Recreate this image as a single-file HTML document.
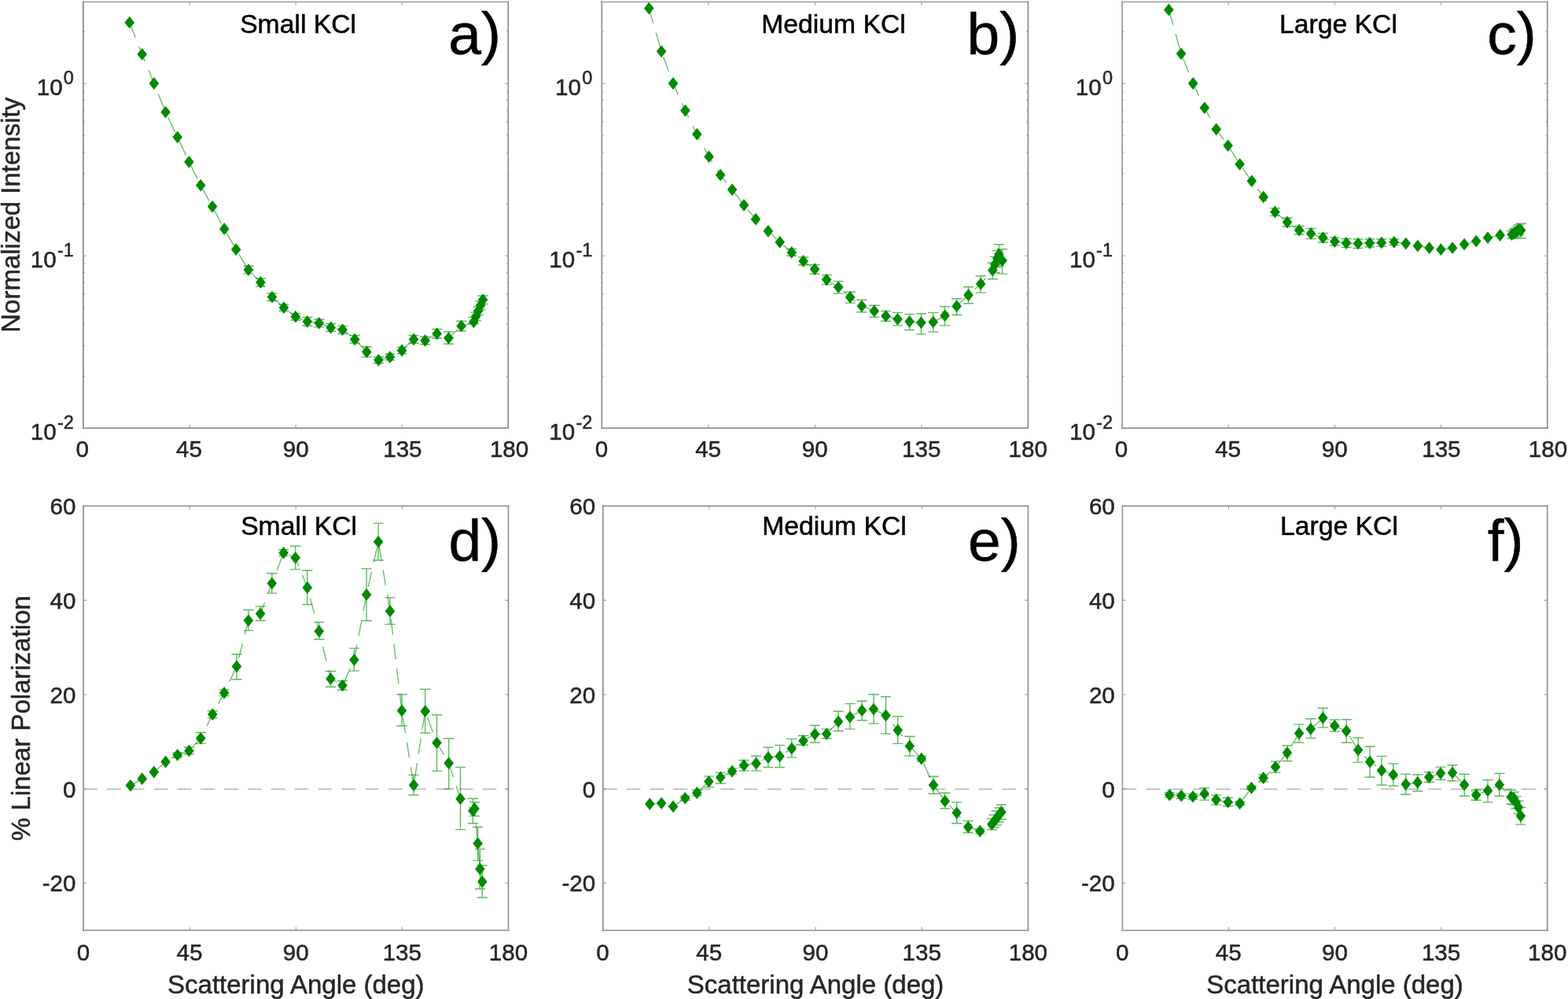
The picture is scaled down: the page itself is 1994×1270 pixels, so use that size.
<!DOCTYPE html>
<html lang="en"><head><meta charset="utf-8"><title>KCl scattering: normalized intensity and linear polarization</title>
<style>html,body{margin:0;padding:0;background:#fff}body{width:1994px;height:1270px;overflow:hidden}svg{display:block}</style></head>
<body>
<svg width="1994" height="1270" viewBox="0 0 1994 1270" font-family='"Liberation Sans", Arial, Helvetica, sans-serif'>
<style>text{stroke-width:0.5px;stroke-linejoin:round}</style>
<rect width="1994" height="1270" fill="#fff"/>
<g>
<line x1="105.9" y1="2.4" x2="646.3" y2="2.4" stroke="#a7a7a7" stroke-width="1.8" stroke-linecap="square"/>
<line x1="646.3" y1="2.4" x2="646.3" y2="544.3" stroke="#858585" stroke-width="1.6" stroke-linecap="square"/>
<line x1="105.9" y1="544.3" x2="646.3" y2="544.3" stroke="#828282" stroke-width="1.6" stroke-linecap="square"/>
<line x1="105.9" y1="2.4" x2="105.9" y2="544.3" stroke="#868686" stroke-width="1.7" stroke-linecap="square"/>
<path d="M241 544.3v-4.2M241 2.4v4.2M376.1 544.3v-4.2M376.1 2.4v4.2M511.2 544.3v-4.2M511.2 2.4v4.2M105.9 325.3h4.2M646.3 325.3h-4.2M105.9 106.3h4.2M646.3 106.3h-4.2M105.9 478.37h2.2M646.3 478.37h-2.2M105.9 439.81h2.2M646.3 439.81h-2.2M105.9 412.45h2.2M646.3 412.45h-2.2M105.9 391.23h2.2M646.3 391.23h-2.2M105.9 373.88h2.2M646.3 373.88h-2.2M105.9 359.22h2.2M646.3 359.22h-2.2M105.9 346.52h2.2M646.3 346.52h-2.2M105.9 335.32h2.2M646.3 335.32h-2.2M105.9 259.37h2.2M646.3 259.37h-2.2M105.9 220.81h2.2M646.3 220.81h-2.2M105.9 193.45h2.2M646.3 193.45h-2.2M105.9 172.23h2.2M646.3 172.23h-2.2M105.9 154.88h2.2M646.3 154.88h-2.2M105.9 140.22h2.2M646.3 140.22h-2.2M105.9 127.52h2.2M646.3 127.52h-2.2M105.9 116.32h2.2M646.3 116.32h-2.2M105.9 40.37h2.2M646.3 40.37h-2.2" fill="none" stroke="#9a9a9a" stroke-width="1.1"/>
<text x="104.8" y="581.3" font-size="29.6" text-anchor="middle" fill="#262626" stroke="#262626">0</text>
<text x="240.5" y="581.3" font-size="29.6" text-anchor="middle" fill="#262626" stroke="#262626">45</text>
<text x="376.2" y="581.3" font-size="29.6" text-anchor="middle" fill="#262626" stroke="#262626">90</text>
<text x="511.9" y="581.3" font-size="29.6" text-anchor="middle" fill="#262626" stroke="#262626">135</text>
<text x="647.6" y="581.3" font-size="29.6" text-anchor="middle" fill="#262626" stroke="#262626">180</text>
<text x="93.9" y="559.3" font-size="29.6" text-anchor="end" fill="#262626" stroke="#262626">10<tspan font-size="23.5" dy="-14.8" dx="1.2">-2</tspan></text>
<text x="93.9" y="340.3" font-size="29.6" text-anchor="end" fill="#262626" stroke="#262626">10<tspan font-size="23.5" dy="-14.8" dx="1.2">-1</tspan></text>
<text x="93.9" y="121.3" font-size="29.6" text-anchor="end" fill="#262626" stroke="#262626">10<tspan font-size="23.5" dy="-14.8" dx="1.2">0</tspan></text>
<text x="379.1" y="42" font-size="33.7" text-anchor="middle" fill="#000" stroke="#000">Small KCl</text>
<text x="570.2" y="69.1" font-size="75" text-anchor="start" fill="#000" stroke="#000">a<tspan dy="-1.3">)</tspan></text>
<polyline points="164.7,28.7 180.7,68.9 195.8,106 210.6,142.6 225.7,174.3 240.4,205.8 255.2,235.6 270.1,262.6 285.2,290.9 300.2,317.2 315.9,343.1 331.4,359 346,377.6 360.9,391.1 375.9,402.7 390.8,408.8 405.7,410.8 420.7,416.4 435.6,419.2 451.2,431.4 466.3,447.3 481.4,457.8 496,453.9 511.1,445.5 526.1,431.4 540.6,432.9 555.7,424.2 570.5,429.8 586.6,414.4 602.3,409.3 605.2,402.3 608.2,395.2 611.1,388.2 614.1,381.1" fill="none" stroke="#008a00" stroke-opacity="0.55" stroke-width="1.45" stroke-dasharray="20.4 12.2"/>
<path d="M315.9 338.3V347.9M309.3 338.3h13.2M309.3 347.9h13.2M331.4 354V364M324.8 354h13.2M324.8 364h13.2M346 373V382.2M339.4 373h13.2M339.4 382.2h13.2M360.9 387V395.2M354.3 387h13.2M354.3 395.2h13.2M375.9 398.5V407M369.3 398.5h13.2M369.3 407h13.2M390.8 403.5V414M384.2 403.5h13.2M384.2 414h13.2M405.7 406V415.6M399.1 406h13.2M399.1 415.6h13.2M420.7 411.5V421.3M414.1 411.5h13.2M414.1 421.3h13.2M435.6 414.4V424M429 414.4h13.2M429 424h13.2M451.2 426.5V436.3M444.6 426.5h13.2M444.6 436.3h13.2M466.3 440.8V453.9M459.7 440.8h13.2M459.7 453.9h13.2M481.4 453.8V461.8M474.8 453.8h13.2M474.8 461.8h13.2M496 450V457.8M489.4 450h13.2M489.4 457.8h13.2M511.1 441.5V449.5M504.5 441.5h13.2M504.5 449.5h13.2M526.1 426.5V436.3M519.5 426.5h13.2M519.5 436.3h13.2M540.6 428V437.8M534 428h13.2M534 437.8h13.2M555.7 418.5V430M549.1 418.5h13.2M549.1 430h13.2M570.5 421.8V437.3M563.9 421.8h13.2M563.9 437.3h13.2M586.6 408.2V420.8M580 408.2h13.2M580 420.8h13.2M602.3 403.3V411.7M595.7 403.3h13.2M595.7 411.7h13.2M605.2 397V407.5M598.6 397h13.2M598.6 407.5h13.2M608.2 390V400.5M601.6 390h13.2M601.6 400.5h13.2M611.1 383V393.5M604.5 383h13.2M604.5 393.5h13.2M614.1 376V386.5M607.5 376h13.2M607.5 386.5h13.2" fill="none" stroke="#008a00" stroke-opacity="0.62" stroke-width="1.4"/>
<path d="M164.7 20.8L171 28.7L164.7 36.6L158.4 28.7ZM180.7 61L187 68.9L180.7 76.8L174.4 68.9ZM195.8 98.1L202.1 106L195.8 113.9L189.5 106ZM210.6 134.7L216.9 142.6L210.6 150.5L204.3 142.6ZM225.7 166.4L232 174.3L225.7 182.2L219.4 174.3ZM240.4 197.9L246.7 205.8L240.4 213.7L234.1 205.8ZM255.2 227.7L261.5 235.6L255.2 243.5L248.9 235.6ZM270.1 254.7L276.4 262.6L270.1 270.5L263.8 262.6ZM285.2 283L291.5 290.9L285.2 298.8L278.9 290.9ZM300.2 309.3L306.5 317.2L300.2 325.1L293.9 317.2ZM315.9 335.2L322.2 343.1L315.9 351L309.6 343.1ZM331.4 351.1L337.7 359L331.4 366.9L325.1 359ZM346 369.7L352.3 377.6L346 385.5L339.7 377.6ZM360.9 383.2L367.2 391.1L360.9 399L354.6 391.1ZM375.9 394.8L382.2 402.7L375.9 410.6L369.6 402.7ZM390.8 400.9L397.1 408.8L390.8 416.7L384.5 408.8ZM405.7 402.9L412 410.8L405.7 418.7L399.4 410.8ZM420.7 408.5L427 416.4L420.7 424.3L414.4 416.4ZM435.6 411.3L441.9 419.2L435.6 427.1L429.3 419.2ZM451.2 423.5L457.5 431.4L451.2 439.3L444.9 431.4ZM466.3 439.4L472.6 447.3L466.3 455.2L460 447.3ZM481.4 449.9L487.7 457.8L481.4 465.7L475.1 457.8ZM496 446L502.3 453.9L496 461.8L489.7 453.9ZM511.1 437.6L517.4 445.5L511.1 453.4L504.8 445.5ZM526.1 423.5L532.4 431.4L526.1 439.3L519.8 431.4ZM540.6 425L546.9 432.9L540.6 440.8L534.3 432.9ZM555.7 416.3L562 424.2L555.7 432.1L549.4 424.2ZM570.5 421.9L576.8 429.8L570.5 437.7L564.2 429.8ZM586.6 406.5L592.9 414.4L586.6 422.3L580.3 414.4ZM602.3 401.4L608.6 409.3L602.3 417.2L596 409.3ZM605.2 394.4L611.5 402.3L605.2 410.2L598.9 402.3ZM608.2 387.3L614.5 395.2L608.2 403.1L601.9 395.2ZM611.1 380.3L617.4 388.2L611.1 396.1L604.8 388.2ZM614.1 373.2L620.4 381.1L614.1 389L607.8 381.1Z" fill="#008a00"/>
</g>
<g>
<line x1="765.3" y1="2.4" x2="1307.4" y2="2.4" stroke="#a7a7a7" stroke-width="1.8" stroke-linecap="square"/>
<line x1="1307.4" y1="2.4" x2="1307.4" y2="544.3" stroke="#888888" stroke-width="1.6" stroke-linecap="square"/>
<line x1="765.3" y1="544.3" x2="1307.4" y2="544.3" stroke="#828282" stroke-width="1.6" stroke-linecap="square"/>
<line x1="765.3" y1="2.4" x2="765.3" y2="544.3" stroke="#8e8e8e" stroke-width="1.7" stroke-linecap="square"/>
<path d="M900.83 544.3v-4.2M900.83 2.4v4.2M1036.35 544.3v-4.2M1036.35 2.4v4.2M1171.88 544.3v-4.2M1171.88 2.4v4.2M765.3 325.3h4.2M1307.4 325.3h-4.2M765.3 106.3h4.2M1307.4 106.3h-4.2M765.3 478.37h2.2M1307.4 478.37h-2.2M765.3 439.81h2.2M1307.4 439.81h-2.2M765.3 412.45h2.2M1307.4 412.45h-2.2M765.3 391.23h2.2M1307.4 391.23h-2.2M765.3 373.88h2.2M1307.4 373.88h-2.2M765.3 359.22h2.2M1307.4 359.22h-2.2M765.3 346.52h2.2M1307.4 346.52h-2.2M765.3 335.32h2.2M1307.4 335.32h-2.2M765.3 259.37h2.2M1307.4 259.37h-2.2M765.3 220.81h2.2M1307.4 220.81h-2.2M765.3 193.45h2.2M1307.4 193.45h-2.2M765.3 172.23h2.2M1307.4 172.23h-2.2M765.3 154.88h2.2M1307.4 154.88h-2.2M765.3 140.22h2.2M1307.4 140.22h-2.2M765.3 127.52h2.2M1307.4 127.52h-2.2M765.3 116.32h2.2M1307.4 116.32h-2.2M765.3 40.37h2.2M1307.4 40.37h-2.2" fill="none" stroke="#9a9a9a" stroke-width="1.1"/>
<text x="765.1" y="581.3" font-size="29.6" text-anchor="middle" fill="#262626" stroke="#262626">0</text>
<text x="900.62" y="581.3" font-size="29.6" text-anchor="middle" fill="#262626" stroke="#262626">45</text>
<text x="1036.15" y="581.3" font-size="29.6" text-anchor="middle" fill="#262626" stroke="#262626">90</text>
<text x="1171.67" y="581.3" font-size="29.6" text-anchor="middle" fill="#262626" stroke="#262626">135</text>
<text x="1307.2" y="581.3" font-size="29.6" text-anchor="middle" fill="#262626" stroke="#262626">180</text>
<text x="753.3" y="559.3" font-size="29.6" text-anchor="end" fill="#262626" stroke="#262626">10<tspan font-size="23.5" dy="-14.8" dx="1.2">-2</tspan></text>
<text x="753.3" y="340.3" font-size="29.6" text-anchor="end" fill="#262626" stroke="#262626">10<tspan font-size="23.5" dy="-14.8" dx="1.2">-1</tspan></text>
<text x="753.3" y="121.3" font-size="29.6" text-anchor="end" fill="#262626" stroke="#262626">10<tspan font-size="23.5" dy="-14.8" dx="1.2">0</tspan></text>
<text x="1060" y="42" font-size="33.7" text-anchor="middle" fill="#000" stroke="#000">Medium KCl</text>
<text x="1229.6" y="69.1" font-size="75" text-anchor="start" fill="#000" stroke="#000">b<tspan dy="-1.3">)</tspan></text>
<polyline points="825.3,10.6 841.1,65.3 856,106 871.4,140.6 886.3,170.7 901.6,199.2 916.2,222.4 931.1,241.1 946.1,260.8 961,278.7 976.9,293.8 991.7,307.8 1006.8,320.9 1021.6,331.9 1036.1,342.2 1051.2,355.6 1066.2,365.1 1081.1,377.9 1095.9,389.2 1111.8,395.4 1126.5,401.8 1141.5,405.8 1156.6,408.8 1171.4,410.2 1186.7,409.4 1201.6,401.2 1216.6,389.2 1231.5,375.1 1247.2,360.9 1262.3,343.6 1265.3,336 1268.2,328.5 1270.3,323.5 1274.6,331.2" fill="none" stroke="#008a00" stroke-opacity="0.55" stroke-width="1.45" stroke-dasharray="20 12"/>
<path d="M1006.8 316.5V325.3M1000.2 316.5h13.2M1000.2 325.3h13.2M1021.6 327V336.8M1015 327h13.2M1015 336.8h13.2M1036.1 336.5V348.2M1029.5 336.5h13.2M1029.5 348.2h13.2M1051.2 349.6V361.6M1044.6 349.6h13.2M1044.6 361.6h13.2M1066.2 357.6V373.1M1059.6 357.6h13.2M1059.6 373.1h13.2M1081.1 371.3V385.1M1074.5 371.3h13.2M1074.5 385.1h13.2M1095.9 381.3V396.8M1089.3 381.3h13.2M1089.3 396.8h13.2M1111.8 388.2V403.2M1105.2 388.2h13.2M1105.2 403.2h13.2M1126.5 395.4V408.2M1119.9 395.4h13.2M1119.9 408.2h13.2M1141.5 397.4V413.9M1134.9 397.4h13.2M1134.9 413.9h13.2M1156.6 399.4V419.5M1150 399.4h13.2M1150 419.5h13.2M1171.4 398.8V424.9M1164.8 398.8h13.2M1164.8 424.9h13.2M1186.7 397.4V421.9M1180.1 397.4h13.2M1180.1 421.9h13.2M1201.6 389.8V413.9M1195 389.8h13.2M1195 413.9h13.2M1216.6 379.7V400.2M1210 379.7h13.2M1210 400.2h13.2M1231.5 364.7V385.7M1224.9 364.7h13.2M1224.9 385.7h13.2M1247.2 350.7V372.1M1240.6 350.7h13.2M1240.6 372.1h13.2M1262.3 334.2V354.7M1255.7 334.2h13.2M1255.7 354.7h13.2M1265.3 326.4V346.5M1258.7 326.4h13.2M1258.7 346.5h13.2M1268.2 318.5V339.5M1261.6 318.5h13.2M1261.6 339.5h13.2M1270.3 310.8V337.5M1263.7 310.8h13.2M1263.7 337.5h13.2M1274.6 316.8V348.1M1268 316.8h13.2M1268 348.1h13.2" fill="none" stroke="#008a00" stroke-opacity="0.62" stroke-width="1.4"/>
<path d="M825.3 2.7L831.6 10.6L825.3 18.5L819 10.6ZM841.1 57.4L847.4 65.3L841.1 73.2L834.8 65.3ZM856 98.1L862.3 106L856 113.9L849.7 106ZM871.4 132.7L877.7 140.6L871.4 148.5L865.1 140.6ZM886.3 162.8L892.6 170.7L886.3 178.6L880 170.7ZM901.6 191.3L907.9 199.2L901.6 207.1L895.3 199.2ZM916.2 214.5L922.5 222.4L916.2 230.3L909.9 222.4ZM931.1 233.2L937.4 241.1L931.1 249L924.8 241.1ZM946.1 252.9L952.4 260.8L946.1 268.7L939.8 260.8ZM961 270.8L967.3 278.7L961 286.6L954.7 278.7ZM976.9 285.9L983.2 293.8L976.9 301.7L970.6 293.8ZM991.7 299.9L998 307.8L991.7 315.7L985.4 307.8ZM1006.8 313L1013.1 320.9L1006.8 328.8L1000.5 320.9ZM1021.6 324L1027.9 331.9L1021.6 339.8L1015.3 331.9ZM1036.1 334.3L1042.4 342.2L1036.1 350.1L1029.8 342.2ZM1051.2 347.7L1057.5 355.6L1051.2 363.5L1044.9 355.6ZM1066.2 357.2L1072.5 365.1L1066.2 373L1059.9 365.1ZM1081.1 370L1087.4 377.9L1081.1 385.8L1074.8 377.9ZM1095.9 381.3L1102.2 389.2L1095.9 397.1L1089.6 389.2ZM1111.8 387.5L1118.1 395.4L1111.8 403.3L1105.5 395.4ZM1126.5 393.9L1132.8 401.8L1126.5 409.7L1120.2 401.8ZM1141.5 397.9L1147.8 405.8L1141.5 413.7L1135.2 405.8ZM1156.6 400.9L1162.9 408.8L1156.6 416.7L1150.3 408.8ZM1171.4 402.3L1177.7 410.2L1171.4 418.1L1165.1 410.2ZM1186.7 401.5L1193 409.4L1186.7 417.3L1180.4 409.4ZM1201.6 393.3L1207.9 401.2L1201.6 409.1L1195.3 401.2ZM1216.6 381.3L1222.9 389.2L1216.6 397.1L1210.3 389.2ZM1231.5 367.2L1237.8 375.1L1231.5 383L1225.2 375.1ZM1247.2 353L1253.5 360.9L1247.2 368.8L1240.9 360.9ZM1262.3 335.7L1268.6 343.6L1262.3 351.5L1256 343.6ZM1265.3 328.1L1271.6 336L1265.3 343.9L1259 336ZM1268.2 320.6L1274.5 328.5L1268.2 336.4L1261.9 328.5ZM1270.3 315.6L1276.6 323.5L1270.3 331.4L1264 323.5ZM1274.6 323.3L1280.9 331.2L1274.6 339.1L1268.3 331.2Z" fill="#008a00"/>
</g>
<g>
<line x1="1427" y1="2.4" x2="1967.8" y2="2.4" stroke="#a5a5a5" stroke-width="1.8" stroke-linecap="square"/>
<line x1="1967.8" y1="2.4" x2="1967.8" y2="544.3" stroke="#848484" stroke-width="1.5" stroke-linecap="square"/>
<line x1="1427" y1="544.3" x2="1967.8" y2="544.3" stroke="#828282" stroke-width="1.6" stroke-linecap="square"/>
<line x1="1427" y1="2.4" x2="1427" y2="544.3" stroke="#9c9c9c" stroke-width="1.8" stroke-linecap="square"/>
<path d="M1562.2 544.3v-4.2M1562.2 2.4v4.2M1697.4 544.3v-4.2M1697.4 2.4v4.2M1832.6 544.3v-4.2M1832.6 2.4v4.2M1427 325.3h4.2M1967.8 325.3h-4.2M1427 106.3h4.2M1967.8 106.3h-4.2M1427 478.37h2.2M1967.8 478.37h-2.2M1427 439.81h2.2M1967.8 439.81h-2.2M1427 412.45h2.2M1967.8 412.45h-2.2M1427 391.23h2.2M1967.8 391.23h-2.2M1427 373.88h2.2M1967.8 373.88h-2.2M1427 359.22h2.2M1967.8 359.22h-2.2M1427 346.52h2.2M1967.8 346.52h-2.2M1427 335.32h2.2M1967.8 335.32h-2.2M1427 259.37h2.2M1967.8 259.37h-2.2M1427 220.81h2.2M1967.8 220.81h-2.2M1427 193.45h2.2M1967.8 193.45h-2.2M1427 172.23h2.2M1967.8 172.23h-2.2M1427 154.88h2.2M1967.8 154.88h-2.2M1427 140.22h2.2M1967.8 140.22h-2.2M1427 127.52h2.2M1967.8 127.52h-2.2M1427 116.32h2.2M1967.8 116.32h-2.2M1427 40.37h2.2M1967.8 40.37h-2.2" fill="none" stroke="#9a9a9a" stroke-width="1.1"/>
<text x="1426" y="581.3" font-size="29.6" text-anchor="middle" fill="#262626" stroke="#262626">0</text>
<text x="1561.62" y="581.3" font-size="29.6" text-anchor="middle" fill="#262626" stroke="#262626">45</text>
<text x="1697.25" y="581.3" font-size="29.6" text-anchor="middle" fill="#262626" stroke="#262626">90</text>
<text x="1832.88" y="581.3" font-size="29.6" text-anchor="middle" fill="#262626" stroke="#262626">135</text>
<text x="1968.5" y="581.3" font-size="29.6" text-anchor="middle" fill="#262626" stroke="#262626">180</text>
<text x="1415" y="559.3" font-size="29.6" text-anchor="end" fill="#262626" stroke="#262626">10<tspan font-size="23.5" dy="-14.8" dx="1.2">-2</tspan></text>
<text x="1415" y="340.3" font-size="29.6" text-anchor="end" fill="#262626" stroke="#262626">10<tspan font-size="23.5" dy="-14.8" dx="1.2">-1</tspan></text>
<text x="1415" y="121.3" font-size="29.6" text-anchor="end" fill="#262626" stroke="#262626">10<tspan font-size="23.5" dy="-14.8" dx="1.2">0</tspan></text>
<text x="1702" y="42" font-size="33.7" text-anchor="middle" fill="#000" stroke="#000">Large KCl</text>
<text x="1891.3" y="69.1" font-size="75" text-anchor="start" fill="#000" stroke="#000">c<tspan dy="-1.3">)</tspan></text>
<polyline points="1486.3,12.4 1502.1,68.3 1517.2,106 1531.8,137.1 1546.7,164.3 1561.6,185.1 1576.6,208.8 1591.8,230.1 1606.7,250.4 1621.4,269.4 1637,282.5 1652.1,292.7 1667.1,296.9 1682.4,302.2 1697.3,307 1712.1,309 1727,309.6 1741.8,309 1756.9,308.6 1772.8,307.8 1787.8,309.6 1802.9,312.6 1817.6,315.2 1832.4,317.2 1847.1,315.2 1862.1,310.6 1877.2,306.6 1892,302.2 1907.7,299 1922.6,298.2 1925.6,296.4 1928.6,294.2 1931.4,291.6 1934.2,292.8" fill="none" stroke="#008a00" stroke-opacity="0.55" stroke-width="1.45" stroke-dasharray="20 12"/>
<path d="M1621.4 264.6V274.4M1614.8 264.6h13.2M1614.8 274.4h13.2M1637 277V288M1630.4 277h13.2M1630.4 288h13.2M1652.1 287.5V298M1645.5 287.5h13.2M1645.5 298h13.2M1667.1 290.5V303.5M1660.5 290.5h13.2M1660.5 303.5h13.2M1682.4 296.5V308M1675.8 296.5h13.2M1675.8 308h13.2M1697.3 302V312M1690.7 302h13.2M1690.7 312h13.2M1712.1 303.5V314.5M1705.5 303.5h13.2M1705.5 314.5h13.2M1727 304V315.5M1720.4 304h13.2M1720.4 315.5h13.2M1741.8 304V314M1735.2 304h13.2M1735.2 314h13.2M1756.9 304V313.4M1750.3 304h13.2M1750.3 313.4h13.2M1772.8 304V311.6M1766.2 304h13.2M1766.2 311.6h13.2M1922.6 293.5V303M1916 293.5h13.2M1916 303h13.2M1925.6 291V302M1919 291h13.2M1919 302h13.2M1928.6 288.5V300.5M1922 288.5h13.2M1922 300.5h13.2M1931.4 286V298.5M1924.8 286h13.2M1924.8 298.5h13.2M1934.2 284.3V303M1927.6 284.3h13.2M1927.6 303h13.2" fill="none" stroke="#008a00" stroke-opacity="0.62" stroke-width="1.4"/>
<path d="M1486.3 4.5L1492.6 12.4L1486.3 20.3L1480 12.4ZM1502.1 60.4L1508.4 68.3L1502.1 76.2L1495.8 68.3ZM1517.2 98.1L1523.5 106L1517.2 113.9L1510.9 106ZM1531.8 129.2L1538.1 137.1L1531.8 145L1525.5 137.1ZM1546.7 156.4L1553 164.3L1546.7 172.2L1540.4 164.3ZM1561.6 177.2L1567.9 185.1L1561.6 193L1555.3 185.1ZM1576.6 200.9L1582.9 208.8L1576.6 216.7L1570.3 208.8ZM1591.8 222.2L1598.1 230.1L1591.8 238L1585.5 230.1ZM1606.7 242.5L1613 250.4L1606.7 258.3L1600.4 250.4ZM1621.4 261.5L1627.7 269.4L1621.4 277.3L1615.1 269.4ZM1637 274.6L1643.3 282.5L1637 290.4L1630.7 282.5ZM1652.1 284.8L1658.4 292.7L1652.1 300.6L1645.8 292.7ZM1667.1 289L1673.4 296.9L1667.1 304.8L1660.8 296.9ZM1682.4 294.3L1688.7 302.2L1682.4 310.1L1676.1 302.2ZM1697.3 299.1L1703.6 307L1697.3 314.9L1691 307ZM1712.1 301.1L1718.4 309L1712.1 316.9L1705.8 309ZM1727 301.7L1733.3 309.6L1727 317.5L1720.7 309.6ZM1741.8 301.1L1748.1 309L1741.8 316.9L1735.5 309ZM1756.9 300.7L1763.2 308.6L1756.9 316.5L1750.6 308.6ZM1772.8 299.9L1779.1 307.8L1772.8 315.7L1766.5 307.8ZM1787.8 301.7L1794.1 309.6L1787.8 317.5L1781.5 309.6ZM1802.9 304.7L1809.2 312.6L1802.9 320.5L1796.6 312.6ZM1817.6 307.3L1823.9 315.2L1817.6 323.1L1811.3 315.2ZM1832.4 309.3L1838.7 317.2L1832.4 325.1L1826.1 317.2ZM1847.1 307.3L1853.4 315.2L1847.1 323.1L1840.8 315.2ZM1862.1 302.7L1868.4 310.6L1862.1 318.5L1855.8 310.6ZM1877.2 298.7L1883.5 306.6L1877.2 314.5L1870.9 306.6ZM1892 294.3L1898.3 302.2L1892 310.1L1885.7 302.2ZM1907.7 291.1L1914 299L1907.7 306.9L1901.4 299ZM1922.6 290.3L1928.9 298.2L1922.6 306.1L1916.3 298.2ZM1925.6 288.5L1931.9 296.4L1925.6 304.3L1919.3 296.4ZM1928.6 286.3L1934.9 294.2L1928.6 302.1L1922.3 294.2ZM1931.4 283.7L1937.7 291.6L1931.4 299.5L1925.1 291.6ZM1934.2 284.9L1940.5 292.8L1934.2 300.7L1927.9 292.8Z" fill="#008a00"/>
</g>
<g>
<line x1="106.1" y1="1003.3" x2="646.5" y2="1003.3" stroke="#c4c4c4" stroke-width="2" stroke-dasharray="17.8 12.05"/>
<line x1="106.1" y1="643.3" x2="646.5" y2="643.3" stroke="#8c8c8c" stroke-width="1.6" stroke-linecap="square"/>
<line x1="646.5" y1="643.3" x2="646.5" y2="1182.7" stroke="#939393" stroke-width="1.7" stroke-linecap="square"/>
<line x1="106.1" y1="1182.7" x2="646.5" y2="1182.7" stroke="#999999" stroke-width="1.7" stroke-linecap="square"/>
<line x1="106.1" y1="643.3" x2="106.1" y2="1182.7" stroke="#888888" stroke-width="1.6" stroke-linecap="square"/>
<path d="M241.2 1182.7v-4.2M241.2 643.3v4.2M376.3 1182.7v-4.2M376.3 643.3v4.2M511.4 1182.7v-4.2M511.4 643.3v4.2M106.1 763.17h4.2M646.5 763.17h-4.2M106.1 883.03h4.2M646.5 883.03h-4.2M106.1 1002.9h4.2M646.5 1002.9h-4.2M106.1 1122.77h4.2M646.5 1122.77h-4.2" fill="none" stroke="#9a9a9a" stroke-width="1.1"/>
<text x="105.9" y="1220.6" font-size="29.6" text-anchor="middle" fill="#262626" stroke="#262626">0</text>
<text x="241.05" y="1220.6" font-size="29.6" text-anchor="middle" fill="#262626" stroke="#262626">45</text>
<text x="376.2" y="1220.6" font-size="29.6" text-anchor="middle" fill="#262626" stroke="#262626">90</text>
<text x="511.35" y="1220.6" font-size="29.6" text-anchor="middle" fill="#262626" stroke="#262626">135</text>
<text x="646.5" y="1220.6" font-size="29.6" text-anchor="middle" fill="#262626" stroke="#262626">180</text>
<text x="96.5" y="653.9" font-size="29.6" text-anchor="end" fill="#262626" stroke="#262626">60</text>
<text x="96.5" y="773.77" font-size="29.6" text-anchor="end" fill="#262626" stroke="#262626">40</text>
<text x="96.5" y="893.63" font-size="29.6" text-anchor="end" fill="#262626" stroke="#262626">20</text>
<text x="96.5" y="1013.5" font-size="29.6" text-anchor="end" fill="#262626" stroke="#262626">0</text>
<text x="96.5" y="1133.37" font-size="29.6" text-anchor="end" fill="#262626" stroke="#262626">-20</text>
<text x="376.3" y="1262.6" font-size="33" text-anchor="middle" fill="#262626" stroke="#262626">Scattering Angle (deg)</text>
<text x="380.1" y="679.7" font-size="33.7" text-anchor="middle" fill="#000" stroke="#000">Small KCl</text>
<text x="570.4" y="712.9" font-size="75" text-anchor="start" fill="#000" stroke="#000">d<tspan dy="-1.3">)</tspan></text>
<polyline points="165.9,998.6 180.7,990 195.8,981.5 210.6,968.5 225.7,959.8 240.4,954.4 255.2,938.6 270.3,908.2 285.1,880.8 301,847.2 315.9,788.8 331.1,780.2 345.8,741.6 360.6,702.9 375.7,709.1 390.8,747 405.8,802.4 420.5,862.9 435.5,871.3 450.4,838.8 466.1,755.9 481.1,688.8 496,776.9 511,903.4 526.1,998 540.7,904.2 555.5,944.3 570.7,970.2 585.5,1015.4 601.4,1030.7 603.5,1027.9 607.6,1072.2 610.4,1104.7 613.3,1120.8" fill="none" stroke="#008a00" stroke-opacity="0.55" stroke-width="1.45" stroke-dasharray="19.8 11.83"/>
<path d="M225.7 957V962.8M219.1 957h13.2M219.1 962.8h13.2M240.4 950V958.8M233.8 950h13.2M233.8 958.8h13.2M255.2 931.3V945.4M248.6 931.3h13.2M248.6 945.4h13.2M270.3 903.8V912.6M263.7 903.8h13.2M263.7 912.6h13.2M285.1 877.1V884.6M278.5 877.1h13.2M278.5 884.6h13.2M301 831.8V863.8M294.4 831.8h13.2M294.4 863.8h13.2M315.9 775.5V801.6M309.3 775.5h13.2M309.3 801.6h13.2M331.1 770.9V789M324.5 770.9h13.2M324.5 789h13.2M345.8 729V754.1M339.2 729h13.2M339.2 754.1h13.2M360.6 698.8V706.9M354 698.8h13.2M354 706.9h13.2M375.7 694.2V723.9M369.1 694.2h13.2M369.1 723.9h13.2M390.8 725.3V768.5M384.2 725.3h13.2M384.2 768.5h13.2M405.8 791V812.7M399.2 791h13.2M399.2 812.7h13.2M420.5 853.3V873.3M413.9 853.3h13.2M413.9 873.3h13.2M435.5 865.5V877M428.9 865.5h13.2M428.9 877h13.2M450.4 824.1V852.9M443.8 824.1h13.2M443.8 852.9h13.2M466.1 722.9V789.2M459.5 722.9h13.2M459.5 789.2h13.2M481.1 665.1V712.3M474.5 665.1h13.2M474.5 712.3h13.2M496 759.9V793.6M489.4 759.9h13.2M489.4 793.6h13.2M511 882.8V922.7M504.4 882.8h13.2M504.4 922.7h13.2M526.1 985.1V1010.7M519.5 985.1h13.2M519.5 1010.7h13.2M540.7 876.3V931.7M534.1 876.3h13.2M534.1 931.7h13.2M555.5 908.7V980.1M548.9 908.7h13.2M548.9 980.1h13.2M570.7 938.8V1002.9M564.1 938.8h13.2M564.1 1002.9h13.2M585.5 975.4V1054.6M578.9 975.4h13.2M578.9 1054.6h13.2M601.4 1015.3V1046.8M594.8 1015.3h13.2M594.8 1046.8h13.2M603.5 1019.8V1037.4M596.9 1019.8h13.2M596.9 1037.4h13.2M607.6 1051.5V1093.9M601 1051.5h13.2M601 1093.9h13.2M610.4 1079.4V1130M603.8 1079.4h13.2M603.8 1130h13.2M613.3 1100.3V1141M606.7 1100.3h13.2M606.7 1141h13.2" fill="none" stroke="#008a00" stroke-opacity="0.62" stroke-width="1.4"/>
<path d="M165.9 990.7L172.2 998.6L165.9 1006.5L159.6 998.6ZM180.7 982.1L187 990L180.7 997.9L174.4 990ZM195.8 973.6L202.1 981.5L195.8 989.4L189.5 981.5ZM210.6 960.6L216.9 968.5L210.6 976.4L204.3 968.5ZM225.7 951.9L232 959.8L225.7 967.7L219.4 959.8ZM240.4 946.5L246.7 954.4L240.4 962.3L234.1 954.4ZM255.2 930.7L261.5 938.6L255.2 946.5L248.9 938.6ZM270.3 900.3L276.6 908.2L270.3 916.1L264 908.2ZM285.1 872.9L291.4 880.8L285.1 888.7L278.8 880.8ZM301 839.3L307.3 847.2L301 855.1L294.7 847.2ZM315.9 780.9L322.2 788.8L315.9 796.7L309.6 788.8ZM331.1 772.3L337.4 780.2L331.1 788.1L324.8 780.2ZM345.8 733.7L352.1 741.6L345.8 749.5L339.5 741.6ZM360.6 695L366.9 702.9L360.6 710.8L354.3 702.9ZM375.7 701.2L382 709.1L375.7 717L369.4 709.1ZM390.8 739.1L397.1 747L390.8 754.9L384.5 747ZM405.8 794.5L412.1 802.4L405.8 810.3L399.5 802.4ZM420.5 855L426.8 862.9L420.5 870.8L414.2 862.9ZM435.5 863.4L441.8 871.3L435.5 879.2L429.2 871.3ZM450.4 830.9L456.7 838.8L450.4 846.7L444.1 838.8ZM466.1 748L472.4 755.9L466.1 763.8L459.8 755.9ZM481.1 680.9L487.4 688.8L481.1 696.7L474.8 688.8ZM496 769L502.3 776.9L496 784.8L489.7 776.9ZM511 895.5L517.3 903.4L511 911.3L504.7 903.4ZM526.1 990.1L532.4 998L526.1 1005.9L519.8 998ZM540.7 896.3L547 904.2L540.7 912.1L534.4 904.2ZM555.5 936.4L561.8 944.3L555.5 952.2L549.2 944.3ZM570.7 962.3L577 970.2L570.7 978.1L564.4 970.2ZM585.5 1007.5L591.8 1015.4L585.5 1023.3L579.2 1015.4ZM601.4 1022.8L607.7 1030.7L601.4 1038.6L595.1 1030.7ZM603.5 1020L609.8 1027.9L603.5 1035.8L597.2 1027.9ZM607.6 1064.3L613.9 1072.2L607.6 1080.1L601.3 1072.2ZM610.4 1096.8L616.7 1104.7L610.4 1112.6L604.1 1104.7ZM613.3 1112.9L619.6 1120.8L613.3 1128.7L607 1120.8Z" fill="#008a00"/>
</g>
<g>
<line x1="766.8" y1="1003.3" x2="1307.4" y2="1003.3" stroke="#c4c4c4" stroke-width="2" stroke-dasharray="17.8 12.05"/>
<line x1="766.8" y1="643.3" x2="1307.4" y2="643.3" stroke="#868686" stroke-width="1.6" stroke-linecap="square"/>
<line x1="1307.4" y1="643.3" x2="1307.4" y2="1182.7" stroke="#939393" stroke-width="1.7" stroke-linecap="square"/>
<line x1="766.8" y1="1182.7" x2="1307.4" y2="1182.7" stroke="#909090" stroke-width="1.6" stroke-linecap="square"/>
<line x1="766.8" y1="643.3" x2="766.8" y2="1182.7" stroke="#888888" stroke-width="1.6" stroke-linecap="square"/>
<path d="M901.95 1182.7v-4.2M901.95 643.3v4.2M1037.1 1182.7v-4.2M1037.1 643.3v4.2M1172.25 1182.7v-4.2M1172.25 643.3v4.2M766.8 763.17h4.2M1307.4 763.17h-4.2M766.8 883.03h4.2M1307.4 883.03h-4.2M766.8 1002.9h4.2M1307.4 1002.9h-4.2M766.8 1122.77h4.2M1307.4 1122.77h-4.2" fill="none" stroke="#9a9a9a" stroke-width="1.1"/>
<text x="766.6" y="1220.6" font-size="29.6" text-anchor="middle" fill="#262626" stroke="#262626">0</text>
<text x="901.8" y="1220.6" font-size="29.6" text-anchor="middle" fill="#262626" stroke="#262626">45</text>
<text x="1037" y="1220.6" font-size="29.6" text-anchor="middle" fill="#262626" stroke="#262626">90</text>
<text x="1172.2" y="1220.6" font-size="29.6" text-anchor="middle" fill="#262626" stroke="#262626">135</text>
<text x="1307.4" y="1220.6" font-size="29.6" text-anchor="middle" fill="#262626" stroke="#262626">180</text>
<text x="757.2" y="653.9" font-size="29.6" text-anchor="end" fill="#262626" stroke="#262626">60</text>
<text x="757.2" y="773.77" font-size="29.6" text-anchor="end" fill="#262626" stroke="#262626">40</text>
<text x="757.2" y="893.63" font-size="29.6" text-anchor="end" fill="#262626" stroke="#262626">20</text>
<text x="757.2" y="1013.5" font-size="29.6" text-anchor="end" fill="#262626" stroke="#262626">0</text>
<text x="757.2" y="1133.37" font-size="29.6" text-anchor="end" fill="#262626" stroke="#262626">-20</text>
<text x="1037.1" y="1262.6" font-size="33" text-anchor="middle" fill="#262626" stroke="#262626">Scattering Angle (deg)</text>
<text x="1061" y="679.7" font-size="33.7" text-anchor="middle" fill="#000" stroke="#000">Medium KCl</text>
<text x="1231.1" y="712.9" font-size="75" text-anchor="start" fill="#000" stroke="#000">e<tspan dy="-1.3">)</tspan></text>
<polyline points="826.3,1022.1 841.2,1021.1 856,1025.3 871.3,1014.7 886.3,1008 901.4,993.6 916.3,988.2 931.1,980.5 946,972.9 961.6,970.5 976.9,962.9 991.6,961.4 1006.8,951.6 1021.5,941.8 1036.3,933.3 1051.2,932.9 1066.1,917.3 1080.9,911.6 1096.2,903.2 1111,901.6 1126.5,909.6 1141.8,928.3 1156.8,948.4 1171.8,964.5 1187,997.9 1201.7,1018.4 1216.7,1033.3 1231.2,1051.3 1246.3,1056.6 1261.3,1047.8 1264.3,1044 1267.3,1040 1270.4,1036 1273.4,1032.4" fill="none" stroke="#008a00" stroke-opacity="0.55" stroke-width="1.45" stroke-dasharray="20 12"/>
<path d="M871.3 1012V1017.4M864.7 1012h13.2M864.7 1017.4h13.2M886.3 1004.5V1011.5M879.7 1004.5h13.2M879.7 1011.5h13.2M901.4 986.9V1000.6M894.8 986.9h13.2M894.8 1000.6h13.2M916.3 982.1V996M909.7 982.1h13.2M909.7 996h13.2M931.1 976.9V984.1M924.5 976.9h13.2M924.5 984.1h13.2M946 966.5V979.9M939.4 966.5h13.2M939.4 979.9h13.2M961.6 961V979.9M955 961h13.2M955 979.9h13.2M976.9 950V975.5M970.3 950h13.2M970.3 975.5h13.2M991.6 947.4V975.5M985 947.4h13.2M985 975.5h13.2M1006.8 939.4V962.9M1000.2 939.4h13.2M1000.2 962.9h13.2M1021.5 935.3V947M1014.9 935.3h13.2M1014.9 947h13.2M1036.3 922.3V944M1029.7 922.3h13.2M1029.7 944h13.2M1051.2 926.9V938.8M1044.6 926.9h13.2M1044.6 938.8h13.2M1066.1 904.2V929.3M1059.5 904.2h13.2M1059.5 929.3h13.2M1080.9 894.6V926.9M1074.3 894.6h13.2M1074.3 926.9h13.2M1096.2 891.2V915.7M1089.6 891.2h13.2M1089.6 915.7h13.2M1111 882.7V919.9M1104.4 882.7h13.2M1104.4 919.9h13.2M1126.5 885.7V932.9M1119.9 885.7h13.2M1119.9 932.9h13.2M1141.8 910.8V945.4M1135.2 910.8h13.2M1135.2 945.4h13.2M1156.8 936.3V960.9M1150.2 936.3h13.2M1150.2 960.9h13.2M1171.8 961.5V967.9M1165.2 961.5h13.2M1165.2 967.9h13.2M1187 987V1009M1180.4 987h13.2M1180.4 1009h13.2M1201.7 1008V1027.7M1195.1 1008h13.2M1195.1 1027.7h13.2M1216.7 1019.9V1046.8M1210.1 1019.9h13.2M1210.1 1046.8h13.2M1231.2 1043.6V1058.5M1224.6 1043.6h13.2M1224.6 1058.5h13.2M1246.3 1053.6V1059.6M1239.7 1053.6h13.2M1239.7 1059.6h13.2M1261.3 1040.8V1054.8M1254.7 1040.8h13.2M1254.7 1054.8h13.2M1264.3 1036V1052M1257.7 1036h13.2M1257.7 1052h13.2M1267.3 1031V1049M1260.7 1031h13.2M1260.7 1049h13.2M1270.4 1027V1045M1263.8 1027h13.2M1263.8 1045h13.2M1273.4 1023V1041.8M1266.8 1023h13.2M1266.8 1041.8h13.2" fill="none" stroke="#008a00" stroke-opacity="0.62" stroke-width="1.4"/>
<path d="M826.3 1014.2L832.6 1022.1L826.3 1030L820 1022.1ZM841.2 1013.2L847.5 1021.1L841.2 1029L834.9 1021.1ZM856 1017.4L862.3 1025.3L856 1033.2L849.7 1025.3ZM871.3 1006.8L877.6 1014.7L871.3 1022.6L865 1014.7ZM886.3 1000.1L892.6 1008L886.3 1015.9L880 1008ZM901.4 985.7L907.7 993.6L901.4 1001.5L895.1 993.6ZM916.3 980.3L922.6 988.2L916.3 996.1L910 988.2ZM931.1 972.6L937.4 980.5L931.1 988.4L924.8 980.5ZM946 965L952.3 972.9L946 980.8L939.7 972.9ZM961.6 962.6L967.9 970.5L961.6 978.4L955.3 970.5ZM976.9 955L983.2 962.9L976.9 970.8L970.6 962.9ZM991.6 953.5L997.9 961.4L991.6 969.3L985.3 961.4ZM1006.8 943.7L1013.1 951.6L1006.8 959.5L1000.5 951.6ZM1021.5 933.9L1027.8 941.8L1021.5 949.7L1015.2 941.8ZM1036.3 925.4L1042.6 933.3L1036.3 941.2L1030 933.3ZM1051.2 925L1057.5 932.9L1051.2 940.8L1044.9 932.9ZM1066.1 909.4L1072.4 917.3L1066.1 925.2L1059.8 917.3ZM1080.9 903.7L1087.2 911.6L1080.9 919.5L1074.6 911.6ZM1096.2 895.3L1102.5 903.2L1096.2 911.1L1089.9 903.2ZM1111 893.7L1117.3 901.6L1111 909.5L1104.7 901.6ZM1126.5 901.7L1132.8 909.6L1126.5 917.5L1120.2 909.6ZM1141.8 920.4L1148.1 928.3L1141.8 936.2L1135.5 928.3ZM1156.8 940.5L1163.1 948.4L1156.8 956.3L1150.5 948.4ZM1171.8 956.6L1178.1 964.5L1171.8 972.4L1165.5 964.5ZM1187 990L1193.3 997.9L1187 1005.8L1180.7 997.9ZM1201.7 1010.5L1208 1018.4L1201.7 1026.3L1195.4 1018.4ZM1216.7 1025.4L1223 1033.3L1216.7 1041.2L1210.4 1033.3ZM1231.2 1043.4L1237.5 1051.3L1231.2 1059.2L1224.9 1051.3ZM1246.3 1048.7L1252.6 1056.6L1246.3 1064.5L1240 1056.6ZM1261.3 1039.9L1267.6 1047.8L1261.3 1055.7L1255 1047.8ZM1264.3 1036.1L1270.6 1044L1264.3 1051.9L1258 1044ZM1267.3 1032.1L1273.6 1040L1267.3 1047.9L1261 1040ZM1270.4 1028.1L1276.7 1036L1270.4 1043.9L1264.1 1036ZM1273.4 1024.5L1279.7 1032.4L1273.4 1040.3L1267.1 1032.4Z" fill="#008a00"/>
</g>
<g>
<line x1="1427.4" y1="1003.3" x2="1967.7" y2="1003.3" stroke="#c4c4c4" stroke-width="2" stroke-dasharray="17.8 12.05"/>
<line x1="1427.4" y1="643.3" x2="1967.7" y2="643.3" stroke="#868686" stroke-width="1.6" stroke-linecap="square"/>
<line x1="1967.7" y1="643.3" x2="1967.7" y2="1182.7" stroke="#8c8c8c" stroke-width="1.6" stroke-linecap="square"/>
<line x1="1427.4" y1="1182.7" x2="1967.7" y2="1182.7" stroke="#909090" stroke-width="1.6" stroke-linecap="square"/>
<line x1="1427.4" y1="643.3" x2="1427.4" y2="1182.7" stroke="#9e9e9e" stroke-width="1.8" stroke-linecap="square"/>
<path d="M1562.48 1182.7v-4.2M1562.48 643.3v4.2M1697.55 1182.7v-4.2M1697.55 643.3v4.2M1832.62 1182.7v-4.2M1832.62 643.3v4.2M1427.4 763.17h4.2M1967.7 763.17h-4.2M1427.4 883.03h4.2M1967.7 883.03h-4.2M1427.4 1002.9h4.2M1967.7 1002.9h-4.2M1427.4 1122.77h4.2M1967.7 1122.77h-4.2" fill="none" stroke="#9a9a9a" stroke-width="1.1"/>
<text x="1427.2" y="1220.6" font-size="29.6" text-anchor="middle" fill="#262626" stroke="#262626">0</text>
<text x="1562.33" y="1220.6" font-size="29.6" text-anchor="middle" fill="#262626" stroke="#262626">45</text>
<text x="1697.45" y="1220.6" font-size="29.6" text-anchor="middle" fill="#262626" stroke="#262626">90</text>
<text x="1832.58" y="1220.6" font-size="29.6" text-anchor="middle" fill="#262626" stroke="#262626">135</text>
<text x="1967.7" y="1220.6" font-size="29.6" text-anchor="middle" fill="#262626" stroke="#262626">180</text>
<text x="1417.8" y="653.9" font-size="29.6" text-anchor="end" fill="#262626" stroke="#262626">60</text>
<text x="1417.8" y="773.77" font-size="29.6" text-anchor="end" fill="#262626" stroke="#262626">40</text>
<text x="1417.8" y="893.63" font-size="29.6" text-anchor="end" fill="#262626" stroke="#262626">20</text>
<text x="1417.8" y="1013.5" font-size="29.6" text-anchor="end" fill="#262626" stroke="#262626">0</text>
<text x="1417.8" y="1133.37" font-size="29.6" text-anchor="end" fill="#262626" stroke="#262626">-20</text>
<text x="1697.55" y="1262.6" font-size="33" text-anchor="middle" fill="#262626" stroke="#262626">Scattering Angle (deg)</text>
<text x="1703" y="679.7" font-size="33.7" text-anchor="middle" fill="#000" stroke="#000">Large KCl</text>
<text x="1891.7" y="712.9" font-size="75" text-anchor="start" fill="#000" stroke="#000">f<tspan dy="-1.3">)</tspan></text>
<polyline points="1487.3,1010.6 1502.2,1011.6 1517,1012.7 1531.7,1009 1546.5,1016.7 1561.6,1019.7 1576.7,1021.3 1591.5,1001.6 1606.6,989 1622,974.9 1636.9,957 1652,932.3 1666.8,926.7 1682.3,912.7 1697.3,922.7 1712.2,929.3 1727.1,953.4 1742.1,968.5 1757,979.5 1771.8,984.9 1787.7,997 1802.7,994.7 1817.3,988 1832,983.1 1847,982.4 1862.2,997.7 1877.2,1010.7 1892,1005.2 1906.8,997.7 1921.6,1013.2 1925,1014.7 1927.9,1020.2 1930.9,1026.3 1933.9,1037.3" fill="none" stroke="#008a00" stroke-opacity="0.55" stroke-width="1.45" stroke-dasharray="20 12"/>
<path d="M1487.3 1007.6V1013.6M1480.7 1007.6h13.2M1480.7 1013.6h13.2M1502.2 1008.6V1015M1495.6 1008.6h13.2M1495.6 1015h13.2M1517 1009.2V1016M1510.4 1009.2h13.2M1510.4 1016h13.2M1531.7 1001.6V1017.1M1525.1 1001.6h13.2M1525.1 1017.1h13.2M1546.5 1010.6V1023.1M1539.9 1010.6h13.2M1539.9 1023.1h13.2M1561.6 1014.3V1024.7M1555 1014.3h13.2M1555 1024.7h13.2M1576.7 1019V1023.6M1570.1 1019h13.2M1570.1 1023.6h13.2M1591.5 999.3V1003.9M1584.9 999.3h13.2M1584.9 1003.9h13.2M1606.6 984.9V993.6M1600 984.9h13.2M1600 993.6h13.2M1622 967.9V982.1M1615.4 967.9h13.2M1615.4 982.1h13.2M1636.9 947.8V967.5M1630.3 947.8h13.2M1630.3 967.5h13.2M1652 920.9V944M1645.4 920.9h13.2M1645.4 944h13.2M1666.8 913.7V938.4M1660.2 913.7h13.2M1660.2 938.4h13.2M1682.3 900.2V924.9M1675.7 900.2h13.2M1675.7 924.9h13.2M1697.3 914.9V929.9M1690.7 914.9h13.2M1690.7 929.9h13.2M1712.2 914.7V944M1705.6 914.7h13.2M1705.6 944h13.2M1727.1 938V969.1M1720.5 938h13.2M1720.5 969.1h13.2M1742.1 949V988M1735.5 949h13.2M1735.5 988h13.2M1757 961.4V998M1750.4 961.4h13.2M1750.4 998h13.2M1771.8 970.9V999.2M1765.2 970.9h13.2M1765.2 999.2h13.2M1787.7 984.1V1010M1781.1 984.1h13.2M1781.1 1010h13.2M1802.7 984.8V1005.7M1796.1 984.8h13.2M1796.1 1005.7h13.2M1817.3 981.6V994.2M1810.7 981.6h13.2M1810.7 994.2h13.2M1832 975.1V991.2M1825.4 975.1h13.2M1825.4 991.2h13.2M1847 972.8V992.7M1840.4 972.8h13.2M1840.4 992.7h13.2M1862.2 984.3V1012M1855.6 984.3h13.2M1855.6 1012h13.2M1877.2 1004.2V1017.2M1870.6 1004.2h13.2M1870.6 1017.2h13.2M1892 991.5V1019.9M1885.4 991.5h13.2M1885.4 1019.9h13.2M1906.8 983.3V1012M1900.2 983.3h13.2M1900.2 1012h13.2M1921.6 1004.2V1022M1915 1004.2h13.2M1915 1022h13.2M1925 1007V1023M1918.4 1007h13.2M1918.4 1023h13.2M1927.9 1012.5V1028M1921.3 1012.5h13.2M1921.3 1028h13.2M1930.9 1018V1034.5M1924.3 1018h13.2M1924.3 1034.5h13.2M1933.9 1026.5V1048.1M1927.3 1026.5h13.2M1927.3 1048.1h13.2" fill="none" stroke="#008a00" stroke-opacity="0.62" stroke-width="1.4"/>
<path d="M1487.3 1002.7L1493.6 1010.6L1487.3 1018.5L1481 1010.6ZM1502.2 1003.7L1508.5 1011.6L1502.2 1019.5L1495.9 1011.6ZM1517 1004.8L1523.3 1012.7L1517 1020.6L1510.7 1012.7ZM1531.7 1001.1L1538 1009L1531.7 1016.9L1525.4 1009ZM1546.5 1008.8L1552.8 1016.7L1546.5 1024.6L1540.2 1016.7ZM1561.6 1011.8L1567.9 1019.7L1561.6 1027.6L1555.3 1019.7ZM1576.7 1013.4L1583 1021.3L1576.7 1029.2L1570.4 1021.3ZM1591.5 993.7L1597.8 1001.6L1591.5 1009.5L1585.2 1001.6ZM1606.6 981.1L1612.9 989L1606.6 996.9L1600.3 989ZM1622 967L1628.3 974.9L1622 982.8L1615.7 974.9ZM1636.9 949.1L1643.2 957L1636.9 964.9L1630.6 957ZM1652 924.4L1658.3 932.3L1652 940.2L1645.7 932.3ZM1666.8 918.8L1673.1 926.7L1666.8 934.6L1660.5 926.7ZM1682.3 904.8L1688.6 912.7L1682.3 920.6L1676 912.7ZM1697.3 914.8L1703.6 922.7L1697.3 930.6L1691 922.7ZM1712.2 921.4L1718.5 929.3L1712.2 937.2L1705.9 929.3ZM1727.1 945.5L1733.4 953.4L1727.1 961.3L1720.8 953.4ZM1742.1 960.6L1748.4 968.5L1742.1 976.4L1735.8 968.5ZM1757 971.6L1763.3 979.5L1757 987.4L1750.7 979.5ZM1771.8 977L1778.1 984.9L1771.8 992.8L1765.5 984.9ZM1787.7 989.1L1794 997L1787.7 1004.9L1781.4 997ZM1802.7 986.8L1809 994.7L1802.7 1002.6L1796.4 994.7ZM1817.3 980.1L1823.6 988L1817.3 995.9L1811 988ZM1832 975.2L1838.3 983.1L1832 991L1825.7 983.1ZM1847 974.5L1853.3 982.4L1847 990.3L1840.7 982.4ZM1862.2 989.8L1868.5 997.7L1862.2 1005.6L1855.9 997.7ZM1877.2 1002.8L1883.5 1010.7L1877.2 1018.6L1870.9 1010.7ZM1892 997.3L1898.3 1005.2L1892 1013.1L1885.7 1005.2ZM1906.8 989.8L1913.1 997.7L1906.8 1005.6L1900.5 997.7ZM1921.6 1005.3L1927.9 1013.2L1921.6 1021.1L1915.3 1013.2ZM1925 1006.8L1931.3 1014.7L1925 1022.6L1918.7 1014.7ZM1927.9 1012.3L1934.2 1020.2L1927.9 1028.1L1921.6 1020.2ZM1930.9 1018.4L1937.2 1026.3L1930.9 1034.2L1924.6 1026.3ZM1933.9 1029.4L1940.2 1037.3L1933.9 1045.2L1927.6 1037.3Z" fill="#008a00"/>
</g>
<text transform="translate(25.2 273.3) rotate(-90)" font-size="33" text-anchor="middle" fill="#262626" stroke="#262626">Normalized Intensity</text>
<text transform="translate(37.5 913) rotate(-90)" font-size="33" text-anchor="middle" fill="#262626" stroke="#262626">% Linear Polarization</text>
</svg>
</body></html>
